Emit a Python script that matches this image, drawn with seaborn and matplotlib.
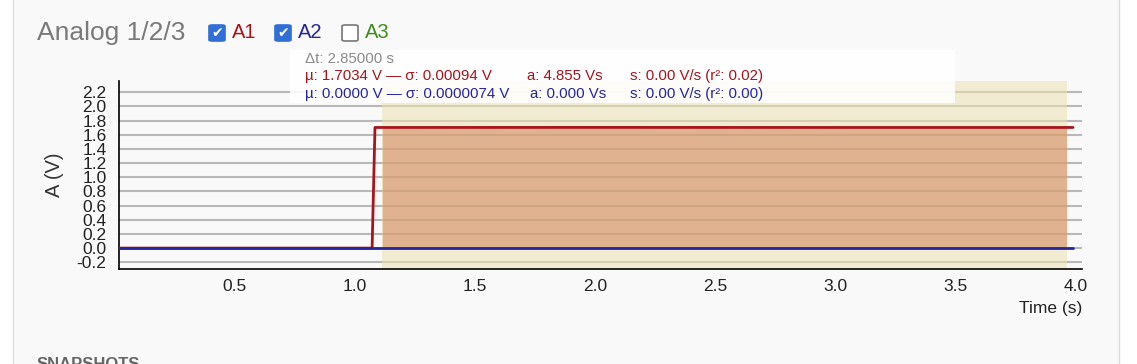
import numpy as np
import pandas as pd
import matplotlib.pyplot as plt
import seaborn as sns
from matplotlib.patches import Rectangle, FancyBboxPatch

# data
a1_time = [0.017, 1.071, 1.083, 2.00, 3.00, 3.99]
a1_volt = [0.0, 0.0, 1.703, 1.704, 1.703, 1.703]
a2_time = [0.017, 1.071, 3.99]
a2_volt = [0.0, 0.0, 0.0]
sel_start, sel_end = 1.113, 3.963
y_ticks = [-0.2, 0.0, 0.2, 0.4, 0.6, 0.8, 1.0, 1.2, 1.4, 1.6, 1.8, 2.0, 2.2]
x_ticks = [0.5, 1.0, 1.5, 2.0, 2.5, 3.0, 3.5, 4.0]

RED = "#a8141c"
BLUE = "#25259c"
GREEN = "#3f8a1c"

df = pd.concat([
    pd.DataFrame({"time": a1_time, "volt": a1_volt, "ch": "A1"}),
    pd.DataFrame({"time": a2_time, "volt": a2_volt, "ch": "A2"}),
])

sns.set_style("white")
plt.rcParams["font.family"] = ["Liberation Sans", "DejaVu Sans"]

W, H = 1137, 364
fig = plt.figure(figsize=(W / 100, H / 100), dpi=100, facecolor="white")

def px(x, y):
    return x / W, 1 - y / H

# card background
fig.patches.append(Rectangle(px(13, 370), (1119 - 13) / W, 1.1, transform=fig.transFigure,
                             facecolor="#f9f9f9", edgecolor="#dddddd", lw=1, zorder=-10))

ax = fig.add_axes([119 / W, (H - 269) / H, (1081.7 - 119) / W, 188 / H])
ax.set_facecolor("#f9f9f9")
ax.set_xlim(0.017, 4.026)
ax.set_ylim(-0.295, 2.359)

# selection and area
ax.axvspan(sel_start, sel_end, color="#ece3b0", alpha=0.55, lw=0, zorder=1)
fill_t = np.array([t for t in a1_time if sel_start < t < sel_end])
fill_t = np.concatenate([[sel_start], fill_t, [sel_end]])
fill_v = np.interp(fill_t, a1_time, a1_volt)
ax.fill_between(fill_t, 0, fill_v, color="#d07a50", alpha=0.5, lw=0, zorder=2)

sns.lineplot(data=df, x="time", y="volt", hue="ch", palette={"A1": RED, "A2": BLUE},
             linewidth=2, legend=False, ax=ax, zorder=3, estimator=None, sort=False)

ax.set_yticks(y_ticks)
ax.set_yticklabels([f"{v:.1f}" for v in y_ticks])
ax.set_xticks(x_ticks)
ax.set_xticklabels([f"{v:.1f}" for v in x_ticks])
ax.yaxis.grid(True, color="#b8b8b8", lw=1.5, zorder=0)
ax.set_axisbelow(True)
ax.tick_params(axis="y", length=0, labelsize=12.5, pad=9, labelcolor="#222222")
ax.tick_params(axis="x", length=5, width=1, color="#b0b0b0", labelsize=12.5, pad=2, labelcolor="#222222")
# outer end ticks
ax.set_xticks([0.017, 4.026], minor=True)
ax.set_yticks([-0.295, 2.359], minor=True)
ax.tick_params(which="minor", length=6, width=1.5, color="black")
for s in ["top", "right"]:
    ax.spines[s].set_visible(False)
for s in ["left", "bottom"]:
    ax.spines[s].set_color("black")
    ax.spines[s].set_linewidth(1.2)
ax.set_xlabel("")
ax.set_ylabel("")

fig.text(*px(55, 175), "A (V)", rotation=90, ha="center", va="center", fontsize=14.5, color="#333333")
fig.text(*px(1082, 308), "Time (s)", ha="right", va="center", fontsize=12.5, color="#222222")

# header
fig.text(*px(37, 33), "Analog 1/2/3", ha="left", va="center", fontsize=19, color="#7a7a7a")
for x0, label, color, checked in [(208, "A1", RED, True), (274, "A2", BLUE, True), (341, "A3", GREEN, False)]:
    box = FancyBboxPatch(px(x0 + 1, 41), 16 / W, 16 / H, boxstyle="round,pad=0,rounding_size=0.003",
                         transform=fig.transFigure, facecolor="#2f6fd6" if checked else "white",
                         edgecolor="#2f6fd6" if checked else "#777777", lw=1.2)
    fig.patches.append(box)
    if checked:
        fig.text(*px(x0 + 9, 33), "\u2714", ha="center", va="center", fontsize=10,
                 color="white", family="DejaVu Sans")
    fig.text(*px(x0 + 24, 33), label, ha="left", va="center", fontsize=14.5, color=color)

# stats box
fig.patches.append(Rectangle(px(290, 103), (955 - 290) / W, 53 / H, transform=fig.transFigure,
                             facecolor="white", alpha=0.88, lw=0, zorder=5))
stats = [
    (305, 59, "\u0394t: 2.85000 s", "#8a8a8a"),
    (305, 76, "\u00b5: 1.7034 V \u2014 \u03c3: 0.00094 V", RED),
    (527, 76, "a: 4.855 Vs", RED),
    (630, 76, "s: 0.00 V/s (r\u00b2: 0.02)", RED),
    (305, 94, "\u00b5: 0.0000 V \u2014 \u03c3: 0.0000074 V", BLUE),
    (530, 94, "a: 0.000 Vs", BLUE),
    (630, 94, "s: 0.00 V/s (r\u00b2: 0.00)", BLUE),
]
for x, y, s, c in stats:
    fig.text(*px(x, y), s, ha="left", va="center", fontsize=10.8, color=c, zorder=6)

fig.text(*px(37, 357), "SNAPSHOTS", ha="left", va="top", fontsize=12, weight="bold", color="#666666")

plt.savefig("out.png", dpi=100, facecolor=fig.get_facecolor())
